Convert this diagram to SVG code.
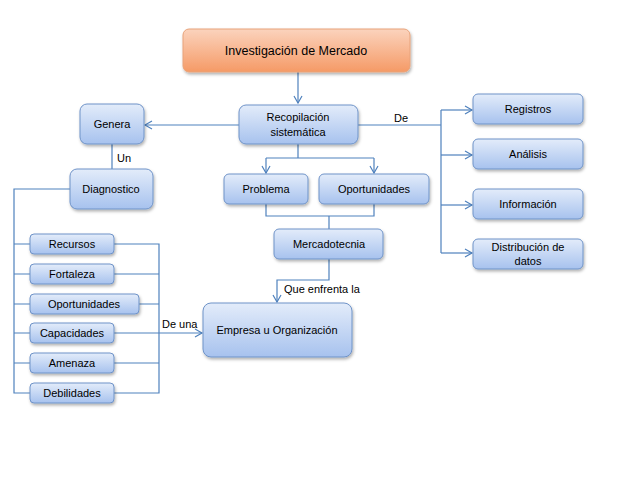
<svg xmlns="http://www.w3.org/2000/svg" width="638" height="479" viewBox="0 0 638 479">
<defs>
<linearGradient id="bl" x1="0" y1="0" x2="0" y2="1"><stop offset="0" stop-color="#e3ecfa"/><stop offset="1" stop-color="#a7c2ee"/></linearGradient>
<linearGradient id="or" x1="0" y1="0" x2="0" y2="1"><stop offset="0" stop-color="#fbd3bd"/><stop offset="1" stop-color="#f59a66"/></linearGradient>
<filter id="sh" x="-10%" y="-10%" width="130%" height="140%"><feDropShadow dx="1" dy="2" stdDeviation="1.5" flood-color="#000" flood-opacity="0.3"/></filter>
<marker id="ar" markerWidth="10" markerHeight="10" refX="8" refY="5" orient="auto" markerUnits="userSpaceOnUse"><path d="M1,1 L8,5 L1,9" fill="none" stroke="#4f81bd" stroke-width="1.2"/></marker>
</defs>
<style>
.b{fill:url(#bl);stroke:#6f93c8;stroke-width:1;filter:url(#sh)}
.o{fill:url(#or);stroke:#e8a37a;stroke-width:1;filter:url(#sh)}
text{font-family:"Liberation Sans",Arial,sans-serif;font-size:11px;fill:#000;text-anchor:middle}
.l{text-anchor:start}
.c{fill:none;stroke:#4f81bd;stroke-width:1.2}
</style>
<rect width="638" height="479" fill="#fff"/>
<g id="connectors">
<path class="c" d="M298,72 V103" marker-end="url(#ar)"/>
<path class="c" d="M239,125 H145" marker-end="url(#ar)"/>
<path class="c" d="M112,144 V169"/>
<path class="c" d="M70,189 H14 V393 H30 M14,244 H30 M14,274 H30 M14,304 H30 M14,333 H30 M14,363 H30"/>
<path class="c" d="M114,244 H159 V393 H114 M114,274 H159 M139,304 H159 M114,333 H159 M114,363 H159"/>
<path class="c" d="M159,333 H202" marker-end="url(#ar)"/>
<path class="c" d="M298,144 V158 M266,158 H374"/>
<path class="c" d="M266,158 V173" marker-end="url(#ar)"/>
<path class="c" d="M374,158 V173" marker-end="url(#ar)"/>
<path class="c" d="M266,204 V216 H374 V204 M329,216 V229"/>
<path class="c" d="M329,259 V280 H277 V302" marker-end="url(#ar)"/>
<path class="c" d="M358,125 H441 M441,110 V253"/>
<path class="c" d="M441,110 H472" marker-end="url(#ar)"/>
<path class="c" d="M441,155 H472" marker-end="url(#ar)"/>
<path class="c" d="M441,205 H472" marker-end="url(#ar)"/>
<path class="c" d="M441,253 H472" marker-end="url(#ar)"/>
<text x="124" y="162">Un</text>
<text class="l" x="162" y="328">De una</text>
<text class="l" x="284" y="293">Que enfrenta la</text>
<text x="401" y="122">De</text>
</g>
<g id="n-top"><rect class="o" x="183" y="29" width="227" height="43" rx="6"/><text x="296" y="55" style="font-size:12.5px">Investigación de Mercado</text></g>
<g id="n-recop"><rect class="b" x="239" y="105" width="119" height="39" rx="7"/><text x="298" y="121">Recopilación</text><text x="298" y="136">sistemática</text></g>
<g id="n-genera"><rect class="b" x="80" y="104" width="64" height="40" rx="7"/><text x="112" y="128">Genera</text></g>
<g id="n-diag"><rect class="b" x="70" y="169" width="83" height="40" rx="7"/><text x="111" y="193">Diagnostico</text></g>
<g id="n-problema"><rect class="b" x="224" y="174" width="84" height="30" rx="5"/><text x="266" y="193">Problema</text></g>
<g id="n-oport"><rect class="b" x="319" y="174" width="110" height="30" rx="5"/><text x="374" y="193">Oportunidades</text></g>
<g id="n-merca"><rect class="b" x="274" y="229" width="109" height="30" rx="5"/><text x="329" y="248">Mercadotecnia</text></g>
<g id="n-empresa"><rect class="b" x="203" y="303" width="149" height="54" rx="8"/><text x="277" y="334">Empresa u Organización</text></g>
<g id="n-recursos"><rect class="b" x="30" y="234" width="84" height="20" rx="4"/><text x="72" y="248">Recursos</text></g>
<g id="n-fortaleza"><rect class="b" x="30" y="264" width="84" height="20" rx="4"/><text x="72" y="278">Fortaleza</text></g>
<g id="n-oport2"><rect class="b" x="30" y="294" width="109" height="20" rx="4"/><text x="84" y="308">Oportunidades</text></g>
<g id="n-capac"><rect class="b" x="30" y="323" width="84" height="20" rx="4"/><text x="72" y="337">Capacidades</text></g>
<g id="n-amenaza"><rect class="b" x="30" y="353" width="84" height="20" rx="4"/><text x="72" y="367">Amenaza</text></g>
<g id="n-debil"><rect class="b" x="30" y="383" width="84" height="20" rx="4"/><text x="72" y="397">Debilidades</text></g>
<g id="n-registros"><rect class="b" x="473" y="94" width="110" height="30" rx="5"/><text x="528" y="113">Registros</text></g>
<g id="n-analisis"><rect class="b" x="473" y="139" width="110" height="30" rx="5"/><text x="528" y="158">Análisis</text></g>
<g id="n-info"><rect class="b" x="473" y="189" width="110" height="30" rx="5"/><text x="528" y="208">Información</text></g>
<g id="n-distrib"><rect class="b" x="473" y="239" width="110" height="30" rx="5"/><text x="528" y="251">Distribución de</text><text x="528" y="265">datos</text></g>
</svg>
